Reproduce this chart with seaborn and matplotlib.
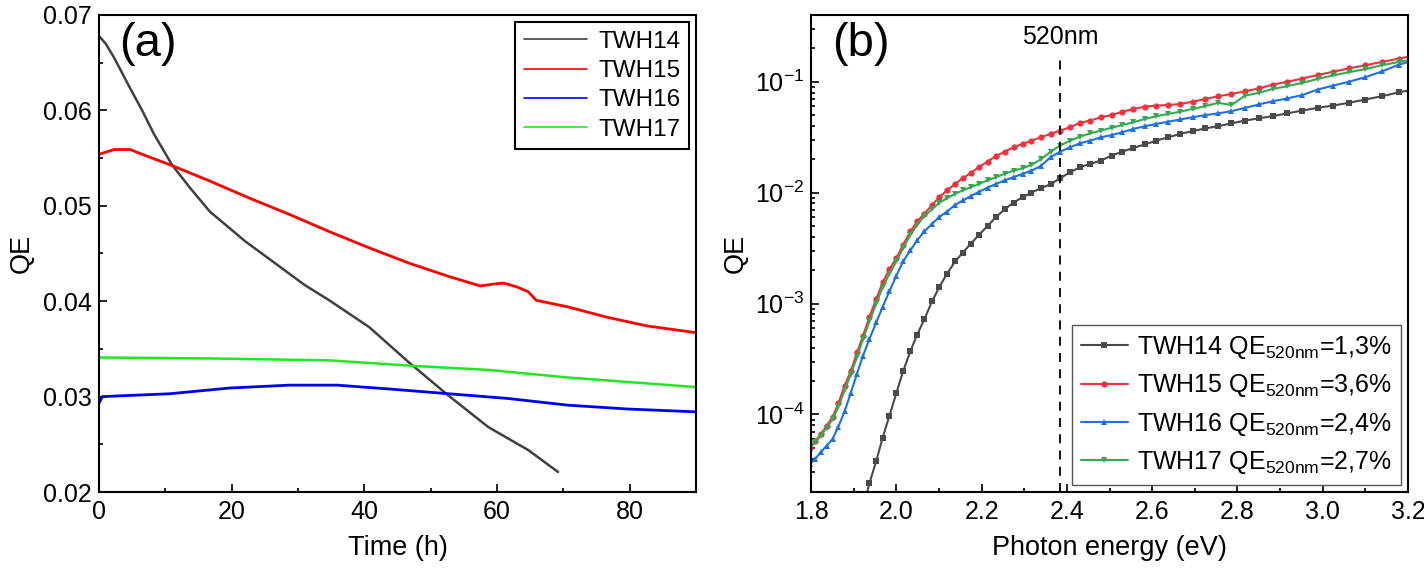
import numpy as np
import pandas as pd
import matplotlib
matplotlib.use("Agg")
import matplotlib.pyplot as plt
from matplotlib.ticker import MultipleLocator, LogLocator, NullFormatter
import seaborn as sns

# ---- panel (a): QE vs time ----
t_14 = [0, 1, 2.3, 4.4, 6.5, 8.3, 11, 13.7, 16.7, 22, 26.9, 31, 34.7, 40.7, 46.7, 52.7, 58.7, 64.7, 69.2]
qe_14 = [0.0678, 0.0670, 0.0655, 0.0627, 0.0600, 0.0575, 0.0543, 0.0519, 0.0494, 0.0463, 0.0438,
         0.0417, 0.0401, 0.0373, 0.0336, 0.0301, 0.0268, 0.0244, 0.0221]

t_15 = [0, 2.3, 4.7, 6.5, 10.7, 16.7, 22.7, 28.7, 34.7, 40.7, 46.7, 52.7, 57.5, 59.5, 61, 63,
        64.7, 65.9, 70.7, 76.7, 82.7, 90]
qe_15 = [0.0554, 0.0559, 0.0559, 0.0554, 0.0543, 0.0526, 0.0508, 0.0491, 0.0473, 0.0456, 0.0440,
         0.0426, 0.0416, 0.0418, 0.0419, 0.0415, 0.0410, 0.0401, 0.0394, 0.0383, 0.0374, 0.0367]

t_16 = [0, 0.5, 10.7, 19.7, 28.7, 35.9, 43.7, 52.7, 61.7, 70.7, 79.7, 90]
qe_16 = [0.0293, 0.0300, 0.0303, 0.0309, 0.0312, 0.0312, 0.0308, 0.0303, 0.0298, 0.0291, 0.0287, 0.0284]

t_17 = [0, 16.7, 34.7, 47.9, 58.7, 70.7, 90]
qe_17 = [0.0341, 0.0340, 0.0338, 0.0332, 0.0328, 0.0320, 0.0310]

# ---- panel (b): QE spectra vs photon energy (eV) ----
energy = [1.771, 1.784, 1.797, 1.810, 1.823, 1.837, 1.851, 1.864, 1.879, 1.893,
          1.908, 1.922, 1.937, 1.953, 1.968, 1.984, 2.000, 2.016, 2.033, 2.049,
          2.066, 2.084, 2.101, 2.119, 2.138, 2.156, 2.175, 2.194, 2.214, 2.234,
          2.254, 2.275, 2.296, 2.317, 2.339, 2.362, 2.384, 2.408, 2.431, 2.455,
          2.480, 2.505, 2.530, 2.556, 2.583, 2.610, 2.638, 2.666, 2.695, 2.725,
          2.755, 2.786, 2.818, 2.850, 2.883, 2.917, 2.952, 2.988, 3.024, 3.061,
          3.100, 3.139, 3.179, 3.220]

# TWH14 starts at index 11 (below the axis before that)
spec_14 = [1.41e-5, 2.40e-5, 3.80e-5, 6.17e-5, 9.77e-5, 1.55e-4, 2.45e-4, 3.72e-4, 5.25e-4,
           7.24e-4, 1.05e-3, 1.41e-3, 1.86e-3, 2.40e-3, 2.88e-3, 3.47e-3, 4.17e-3, 5.01e-3,
           6.03e-3, 7.08e-3, 8.13e-3, 9.12e-3, 0.0100, 0.0110, 0.0119, 0.0135, 0.0153, 0.0170,
           0.0182, 0.0195, 0.0216, 0.0234, 0.0254, 0.0272, 0.0295, 0.0316, 0.0339, 0.0359,
           0.0380, 0.0398, 0.0422, 0.0447, 0.0468, 0.0490, 0.0519, 0.0550, 0.0582, 0.0610,
           0.0646, 0.0692, 0.0741, 0.0804, 0.0861]

spec_15 = [3.80e-5, 4.37e-5, 5.01e-5, 5.75e-5, 6.61e-5, 7.94e-5, 9.55e-5, 1.26e-4, 1.82e-4,
           2.45e-4, 3.63e-4, 5.13e-4, 7.59e-4, 1.10e-3, 1.55e-3, 2.04e-3, 2.57e-3, 3.39e-3,
           4.47e-3, 5.50e-3, 6.46e-3, 7.76e-3, 9.12e-3, 0.0105, 0.0120, 0.0135, 0.0151, 0.0170,
           0.0191, 0.0214, 0.0234, 0.0257, 0.0275, 0.0295, 0.0316, 0.0339, 0.0363, 0.0389,
           0.0427, 0.0447, 0.0479, 0.0501, 0.0537, 0.0569, 0.0596, 0.0610, 0.0617, 0.0631,
           0.0661, 0.0700, 0.0741, 0.0776, 0.0822, 0.0871, 0.0944, 0.100, 0.107, 0.115,
           0.123, 0.132, 0.141, 0.151, 0.162, 0.174]

spec_16 = [2.82e-5, 3.16e-5, 3.55e-5, 3.98e-5, 4.57e-5, 5.25e-5, 6.03e-5, 7.76e-5, 1.07e-4,
           1.55e-4, 2.34e-4, 3.39e-4, 4.79e-4, 6.76e-4, 9.33e-4, 1.29e-3, 1.78e-3, 2.40e-3,
           3.02e-3, 3.72e-3, 4.47e-3, 5.25e-3, 6.03e-3, 6.76e-3, 7.76e-3, 8.51e-3, 9.33e-3,
           0.0102, 0.0111, 0.0120, 0.0129, 0.0138, 0.0148, 0.0158, 0.0174, 0.0209, 0.0234,
           0.0257, 0.0279, 0.0295, 0.0316, 0.0331, 0.0351, 0.0376, 0.0398, 0.0417, 0.0437,
           0.0457, 0.0479, 0.0501, 0.0519, 0.0543, 0.0582, 0.0624, 0.0668, 0.0708, 0.0759,
           0.0851, 0.0923, 0.100, 0.110, 0.124, 0.143, 0.158]

spec_17 = [3.98e-5, 4.47e-5, 5.01e-5, 5.62e-5, 6.46e-5, 7.59e-5, 9.12e-5, 1.17e-4, 1.66e-4,
           2.29e-4, 3.31e-4, 4.79e-4, 6.92e-4, 1.00e-3, 1.41e-3, 1.86e-3, 2.40e-3, 3.16e-3,
           4.17e-3, 5.13e-3, 6.17e-3, 7.08e-3, 8.13e-3, 8.91e-3, 9.77e-3, 0.0105, 0.0112,
           0.0120, 0.0129, 0.0138, 0.0148, 0.0158, 0.0166, 0.0178, 0.0200, 0.0234, 0.0266,
           0.0295, 0.0320, 0.0343, 0.0363, 0.0385, 0.0407, 0.0432, 0.0462, 0.0490, 0.0513,
           0.0537, 0.0569, 0.0603, 0.0646, 0.0617, 0.0750, 0.0794, 0.0861, 0.0912, 0.0977,
           0.106, 0.114, 0.122, 0.130, 0.141, 0.151, 0.162]

qe520 = ["1,3", "3,6", "2,4", "2,7"]
samples = ["TWH14", "TWH15", "TWH16", "TWH17"]

sns.set_style("ticks")
plt.rcParams["font.family"] = ["Liberation Sans", "DejaVu Sans"]
plt.rcParams["mathtext.fontset"] = "custom"
plt.rcParams["mathtext.rm"] = "Liberation Sans"
plt.rcParams["mathtext.it"] = "Liberation Sans:italic"
plt.rcParams["mathtext.default"] = "regular"
for key in ["text.color", "axes.labelcolor", "xtick.color", "ytick.color", "axes.edgecolor"]:
    plt.rcParams[key] = "black"

fig = plt.figure(figsize=(14.24, 5.78), dpi=100)
ax1 = fig.add_axes([99 / 1424, 86 / 578, 597 / 1424, 477 / 578])
ax2 = fig.add_axes([811 / 1424, 86 / 578, 597 / 1424, 477 / 578])

# ---- (a) ----
colors_a = ["#404040", "#ff0000", "#0000f0", "#22e622"]
widths_a = [1.8, 2.0, 2.0, 1.8]
series_a = [(t_14, qe_14), (t_15, qe_15), (t_16, qe_16), (t_17, qe_17)]
for name, (t, q), c, w in zip(samples, series_a, colors_a, widths_a):
    sns.lineplot(x=t, y=q, ax=ax1, color=c, linewidth=w, label=name)

ax1.set_xlim(0, 90)
ax1.set_ylim(0.02, 0.07)
ax1.xaxis.set_major_locator(MultipleLocator(20))
ax1.xaxis.set_minor_locator(MultipleLocator(10))
ax1.yaxis.set_major_locator(MultipleLocator(0.01))
ax1.yaxis.set_minor_locator(MultipleLocator(0.005))
ax1.set_xlabel("Time (h)", fontsize=19.5, labelpad=8)
ax1.set_ylabel("QE", fontsize=19.5, labelpad=6)
ax1.text(0.033, 0.985, "(a)", transform=ax1.transAxes, fontsize=34, va="top", ha="left")
leg1 = ax1.legend(loc="upper right", fontsize=17.5, frameon=True, fancybox=False,
                  handlelength=2.6, borderaxespad=0.3, labelspacing=0.3,
                  borderpad=0.35, handletextpad=0.45,
                  edgecolor="black", framealpha=1)
leg1.get_frame().set_linewidth(1.5)
for line in leg1.get_lines():
    line.set_linewidth(1.2)

# ---- (b) ----
colors_b = ["#4a4a4a", "#ee3340", "#2070dd", "#35a852"]
markers_b = ["s", "o", "^", "v"]
spectra = [spec_14, spec_15, spec_16, spec_17]
for name, q, c, m, v in zip(samples, spectra, colors_b, markers_b, qe520):
    e = energy[len(energy) - len(q):]
    sns.lineplot(x=e, y=q, ax=ax2, color=c, marker=m, markersize=4.5,
                 markeredgewidth=0, linewidth=1.5,
                 label=f"{name} QE$_{{520nm}}$={v}%")

ax2.set_yscale("log")
ax2.set_xlim(1.8, 3.2)
ax2.set_ylim(2e-5, 0.4)
ax2.xaxis.set_major_locator(MultipleLocator(0.2))
ax2.xaxis.set_minor_locator(MultipleLocator(0.1))
ax2.yaxis.set_major_locator(LogLocator(base=10, numticks=10))
ax2.yaxis.set_minor_locator(LogLocator(base=10, subs=np.arange(2, 10), numticks=20))
ax2.yaxis.set_minor_formatter(NullFormatter())
ax2.set_xlabel("Photon energy (eV)", fontsize=19.5, labelpad=8)
ax2.set_ylabel("QE", fontsize=19.5, labelpad=4)
ax2.axvline(1239.84 / 520, ymax=0.912, color="black", linestyle=(0, (5, 4)), linewidth=1.3)
ax2.text(1239.84 / 520, 0.953, "520nm", transform=ax2.get_xaxis_transform(),
         ha="center", va="center", fontsize=18)
ax2.text(0.035, 0.985, "(b)", transform=ax2.transAxes, fontsize=34, va="top", ha="left")
leg2 = ax2.legend(loc="lower right", fontsize=18, frameon=True, fancybox=False,
                  handlelength=1.9, borderaxespad=0.3, labelspacing=0.45,
                  borderpad=0.35, edgecolor="#555555", framealpha=1, handletextpad=0.35)
leg2.get_frame().set_linewidth(1.0)

for ax in (ax1, ax2):
    ax.tick_params(which="both", direction="in", top=False, right=False,
                   labelsize=18, width=1.2, colors="black")
    ax.tick_params(which="major", length=6)
    ax.tick_params(which="minor", length=3)
    ax.tick_params(axis="x", which="major", pad=6)
    ax.tick_params(axis="y", which="major", pad=5)
    for s in ax.spines.values():
        s.set_linewidth(1.5)
        s.set_color("black")

fig.savefig("out.png", dpi=100)
